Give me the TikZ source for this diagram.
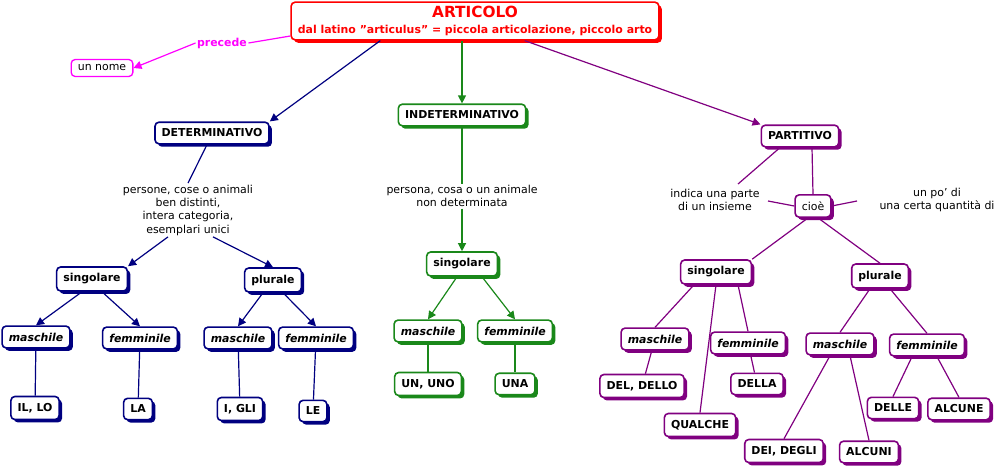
\documentclass[tikz,border=0pt]{standalone}
\usepackage{fontspec}
\setmainfont{DejaVu Sans}
\usetikzlibrary{shadows,arrows.meta}
\definecolor{nav}{HTML}{000080}
\definecolor{grn}{HTML}{1A881A}
\definecolor{pur}{HTML}{800080}
\definecolor{mag}{HTML}{FF00FF}
\definecolor{rd}{HTML}{FF0000}
\tikzset{
 bx/.style={draw=#1, line width=1.2pt, rounded corners=3pt, fill=white, inner xsep=5pt, inner ysep=5pt, font=\fontsize{8.2}{10}\selectfont\bfseries,
   drop shadow={shadow xshift=2.2pt, shadow yshift=-2.2pt, fill=#1, opacity=1}},
 ibx/.style={bx=#1, font=\fontsize{8.2}{10}\selectfont\bfseries\itshape},
 pl/.style={font=\fontsize{8.2}{10}\selectfont, align=center, inner sep=1pt},
 con/.style={draw=#1, line width=0.9pt},
 arr/.style={con=#1, -{Triangle[length=6pt,width=6pt]}},
}
\begin{document}
\begin{tikzpicture}[x=0.75pt,y=-0.75pt]
\useasboundingbox (0,0) rectangle (995,468);
% root
\node[draw=rd, line width=1.2pt, rounded corners=3pt, fill=white, align=center, text=rd, inner xsep=5pt, inner ysep=3pt,
 drop shadow={shadow xshift=2.2pt, shadow yshift=-2.2pt, fill=rd, opacity=1}] (root) at (475,21)
 {{\fontsize{11.5}{13}\selectfont\bfseries ARTICOLO}\\{\fontsize{8.2}{10}\selectfont\bfseries dal latino \symbol{34}articulus\symbol{34} = piccola articolazione, piccolo arto}};
\node[draw=mag, line width=1pt, rounded corners=3pt, pl, inner xsep=5pt, inner ysep=4pt] (nome) at (102,68) {un nome};
\node[font=\fontsize{8.2}{10}\selectfont\bfseries, text=mag, inner sep=1pt] (prec) at (222,43) {precede};
\draw[con=mag] (root.west|-0,36) -- (prec.east);
\draw[arr=mag] (prec.west) -- (nome.east);
% level 1
\node[bx=nav] (det) at (212,133) {DETERMINATIVO};
\node[bx=grn] (ind) at (462,115) {INDETERMINATIVO};
\node[bx=pur] (par) at (800,136) {PARTITIVO};
\draw[arr=nav] (root.south west)++(90,0) -- (det.north east);
\draw[arr=grn] (root.south-|ind) -- (ind.north);
\draw[arr=pur] (root.south east)++(-135,0) -- (par.north west);
% determinativo
\node[pl] (dtx) at (188,210) {persone, cose o animali\\ben distinti,\\intera categoria,\\esemplari unici};
\draw[con=nav] (det.south)++(-5,0) -- (dtx.north);
\node[bx=nav] (ds) at (92,279) {singolare};
\node[bx=nav] (dp) at (273,280) {plurale};
\draw[arr=nav] (dtx.south)++(-20,0) -- (ds.north east);
\draw[arr=nav] (dtx.south)++(25,0) -- (dp.north);
\node[ibx=nav] (dsm) at (36,337) {maschile};
\node[ibx=nav] (dsf) at (140,338) {femminile};
\node[ibx=nav] (dpm) at (238,338) {maschile};
\node[ibx=nav] (dpf) at (316,338) {femminile};
\draw[arr=nav] (ds.south)++(-10,0) -- (dsm.north);
\draw[arr=nav] (ds.south)++(10,0) -- (dsf.north);
\draw[arr=nav] (dp.south)++(-10,0) -- (dpm.north);
\draw[arr=nav] (dp.south)++(10,0) -- (dpf.north);
\node[bx=nav] (w1) at (35,408) {IL, LO};
\node[bx=nav] (w2) at (138,409) {LA};
\node[bx=nav] (w3) at (240,409) {I, GLI};
\node[bx=nav] (w4) at (313,411) {LE};
\draw[con=nav] (dsm) -- (w1);
\draw[con=nav] (dsf) -- (w2);
\draw[con=nav] (dpm) -- (w3);
\draw[con=nav] (dpf) -- (w4);
% indeterminativo
\node[pl] (itx) at (462,196) {persona, cosa o un animale\\non determinata};
\draw[con=grn] (ind) -- (itx);
\node[bx=grn] (is) at (462,264) {singolare};
\draw[arr=grn] (itx) -- (is);
\node[ibx=grn] (im) at (428,331) {maschile};
\node[ibx=grn] (if) at (515,331) {femminile};
\draw[arr=grn] (is.south)++(-5,0) -- (im.north);
\draw[arr=grn] (is.south)++(20,0) -- (if.north);
\node[bx=grn] (w5) at (428,384) {UN, UNO};
\node[bx=grn] (w6) at (515,384) {UNA};
\draw[con=grn] (im) -- (w5);
\draw[con=grn] (if) -- (w6);
% partitivo
\node[bx=pur, font=\fontsize{8.2}{10}\selectfont] (cio) at (813,206) {cioè};
\node[pl] (ptl) at (715,200) {indica una parte\\di un insieme};
\node[pl] (ptr) at (937,200) {un po' di\\una certa quantità di};
\draw[con=pur] (par.south)++(-20,0) -- (738,184);
\draw[con=pur] (par.south)++(12,0) -- (cio.north);
\draw[con=pur] (768,201) -- (cio.west);
\draw[con=pur] (cio.east) -- (857,201);
\node[bx=pur] (ps) at (716,272) {singolare};
\node[bx=pur] (pp) at (880,276) {plurale};
\draw[con=pur] (cio.south)++(-5,0) -- (ps.north east);
\draw[con=pur] (cio.south)++(5,0) -- (pp.north);
\node[ibx=pur] (pm) at (655,339) {maschile};
\node[ibx=pur] (pf) at (748,343) {femminile};
\node[bx=pur] (w7) at (642,386) {DEL, DELLO};
\node[bx=pur] (w8) at (700,425) {QUALCHE};
\node[bx=pur] (w9) at (757,384) {DELLA};
\draw[con=pur] (ps.south)++(-22,0) -- (pm.north);
\draw[con=pur] (ps.south) -- (w8.north);
\draw[con=pur] (ps.south)++(22,0) -- (pf.north);
\draw[con=pur] (pm) -- (w7);
\draw[con=pur] (pf) -- (w9);
\node[ibx=pur] (qm) at (840,344) {maschile};
\node[ibx=pur] (qf) at (927,345) {femminile};
\draw[con=pur] (pp.south)++(-10,0) -- (qm.north);
\draw[con=pur] (pp.south)++(10,0) -- (qf.north);
\node[bx=pur] (w10) at (784,451) {DEI, DEGLI};
\node[bx=pur] (w11) at (869,452) {ALCUNI};
\node[bx=pur] (w12) at (893,408) {DELLE};
\node[bx=pur] (w13) at (959,409) {ALCUNE};
\draw[con=pur] (qm.south)++(-10,0) -- (w10.north);
\draw[con=pur] (qm.south)++(10,0) -- (w11.north);
\draw[con=pur] (qf.south)++(-15,0) -- (w12.north);
\draw[con=pur] (qf.south)++(10,0) -- (w13.north);
\end{tikzpicture}
\end{document}
